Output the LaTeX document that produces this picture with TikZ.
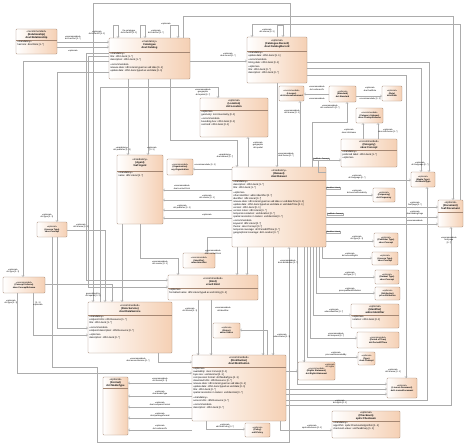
\documentclass[tikz,border=0pt]{standalone}
\usepackage{fontspec}
\setmainfont{Liberation Sans}
\usetikzlibrary{arrows.meta,calc}
\definecolor{peach}{RGB}{245,208,180}
\definecolor{bordc}{RGB}{165,135,115}
\definecolor{linec}{RGB}{172,172,172}
\tikzset{
 clsbox/.style={draw=bordc, line width=0.4pt, rounded corners=0.8pt, left color=white, right color=peach, inner sep=0pt, outer sep=0pt},
 hdr/.style={font=\fontsize{2.6}{3.0}\selectfont, align=center, inner sep=0pt},
 shdr/.style={font=\fontsize{2.15}{2.55}\selectfont, align=center, inner sep=0pt},
 bodyt/.style={font=\fontsize{2.45}{3.0}\selectfont, align=left, inner sep=0pt},
 divc/.style={draw=bordc, line width=0.3pt},
 conn/.style={draw=linec, line width=0.38pt, -{Straight Barb[length=1.6pt,width=2.4pt]}},
 ln/.style={draw=linec, line width=0.38pt},
 qual/.style={draw=linec, line width=0.3pt, fill=white, inner sep=0.3pt, font=\fontsize{1.9}{2.2}\selectfont, anchor=north west},
 lbl/.style={font=\fontsize{2.1}{2.5}\selectfont, align=center, inner sep=0.2pt},
}
% #1 name, #2 x1, #3 y1, #4 x2, #5 y2, #6 header height, #7 header, #8 body
\newcommand{\umlcls}[8]{%
  \node[clsbox, anchor=north west, minimum width={(#4-#2)*1pt}, minimum height={(#5-#3)*1pt}] (#1) at (#2,#3) {};
  \node[hdr] (#1-h) at ([yshift={-(#6)*0.5pt}]#1.north) {#7};
  \draw[divc] ([yshift={-(#6)*1pt}]#1.north west) -- ([yshift={-(#6)*1pt}]#1.north east);
  \node[bodyt, anchor=north west] (#1-b) at ([xshift=1.2pt, yshift={-(#6+0.7)*1pt}]#1.north west) {#8};
}
\newcommand{\umlscls}[6]{%
  \node[clsbox, anchor=north west, minimum width={(#4-#2)*1pt}, minimum height={(#5-#3)*1pt}] (#1) at (#2,#3) {};
  \node[shdr] (#1-h) at (#1.center) {#6};
}
\newcommand{\lb}[4]{\node[lbl] (#1) at (#2,#3) {#4};}
\begin{document}
\begin{tikzpicture}[x=1pt,y=-1pt]
\fill[white] (0,0) rectangle (474,445);
\useasboundingbox (0,0) rectangle (474,445);

% ---------------- classes
\umlcls{A}{16}{29}{57}{54}{11}{«recommended»\\\textbf{(Relationship)}\\\textbf{dcat:Relationship}}{«mandatory»\\had role: dcat:Role [1..*]}
\umlcls{B}{109}{38}{190}{79}{14}{«mandatory»\\\textbf{Catalogue}\\\textbf{dcat:Catalog}}{«mandatory»\\title: rdfs:Literal [1..*]\\description: rdfs:Literal [1..*]\\[2pt]«recommended»\\release date: rdfs:Literal typed as xsd:date [0..1]\\update date: rdfs:Literal typed as xsd:date [0..1]}
\umlcls{C}{247}{37}{307}{83}{14}{«optional»\\\textbf{(Catalogue Record)}\\\textbf{dcat:CatalogRecord}}{«mandatory»\\update date: rdfs:Literal [1..1]\\[1pt]«recommended»\\listing date: rdfs:Literal [0..1]\\[1pt]«optional»\\title: rdfs:Literal [0..*]\\description: rdfs:Literal [0..*]}
\umlcls{D}{200}{98}{268}{137}{12}{«optional»\\\textbf{(Location)}\\\textbf{dct:Location}}{«optional»\\geometry: locn:Geometry [0..1]\\[1pt]«recommended»\\bounding box: rdfs:Literal [0..1]\\centroid: rdfs:Literal [0..1]}
\umlscls{E}{279}{86}{304}{101}{«recommended»\\\textbf{(Licence)}\\\textbf{dct:LicenseDocument}}
\umlscls{F}{329}{86}{356}{102}{«optional»\\\textbf{(Standard)}\\\textbf{dct:Standard}}
\umlscls{G}{382}{86}{402}{101}{«optional»\\\textbf{(Role)}\\\textbf{dcat:Role}}
\umlscls{H}{356}{108}{383}{123}{«recommended»\\\textbf{(Category Scheme)}\\\textbf{skos:ConceptScheme}}
\umlcls{I}{341}{139}{397}{167}{11}{«recommended»\\\textbf{(Category)}\\\textbf{skos:Concept}}{«mandatory»\\preferred label: rdfs:Literal [1..*]\\«optional»}
\umlcls{Agent}{117}{155}{163}{224}{16}{«mandatory»\\\textbf{(Agent)}\\\textbf{foaf:Agent}}{«mandatory»\\name: rdfs:Literal [1..*]}
\umlscls{L}{167}{159}{193}{175}{«recommended»\\\textbf{(Organisation)}\\\textbf{org:Organization}}
\umlcls{Dataset}{232}{167}{326}{247}{13}{«mandatory»\\\textbf{(Dataset)}\\\textbf{dcat:Dataset}}{«mandatory»\\description: rdfs:Literal [1..*]\\title: rdfs:Literal [1..*]\\[1.5pt]«optional»\\other identifier: adms:Identifier [0..*]\\identifier: rdfs:Literal [0..*]\\release date: rdfs:Literal typed as xsd:date or xsd:dateTime [0..1]\\update date: rdfs:Literal typed as xsd:date or xsd:dateTime [0..1]\\version: rdfs:Literal [0..1]\\version notes: rdfs:Literal [0..*]\\temporal resolution: xsd:duration [0..*]\\spatial resolution in meters: xsd:decimal [0..*]\\[1.5pt]«recommended»\\keyword: rdfs:Literal [0..*]\\theme: skos:Concept [0..*]\\temporal coverage: dct:PeriodOfTime [0..*]\\geographical coverage: dct:Location [0..*]}
\umlscls{Ling}{411}{172}{435}{187}{«optional»\\\textbf{(Media Type)}\\\textbf{dct:MediaType}}
\umlcls{Doc}{438}{200}{463}{227}{12}{«optional»\\\textbf{(Document)}\\\textbf{foaf:Document}}{}
\umlscls{Id1}{373}{188}{395}{202}{«optional»\\\textbf{(Frequency)}\\\textbf{dct:Frequency}}
\umlscls{R1}{374}{233}{398}{247}{«optional»\\\textbf{(Publisher Type)}\\\textbf{skos:Concept}}
\umlscls{R2}{372}{252}{398}{265}{«optional»\\\textbf{(Licence Type)}\\\textbf{skos:Concept}}
\umlscls{R3}{375}{270}{399}{284}{«optional»\\\textbf{(Dataset Type)}\\\textbf{skos:Concept}}
\umlscls{R4}{375}{287}{400}{300}{«optional»\\\textbf{(Attribution)}\\\textbf{prov:Attribution}}
\umlcls{R5}{351}{304}{399}{328}{11}{«optional»\\\textbf{(Identifier)}\\\textbf{adms:Identifier}}{«optional»\\notation: rdfs:Literal [0..1]}
\umlscls{R6}{357}{332}{399}{348}{«recommended»\\\textbf{(Period of Time)}\\\textbf{dct:PeriodOfTime}}
\umlscls{R7}{358}{352}{375}{365}{«optional»\\\textbf{(Type)}\\\textbf{skos:Concept}}
\umlscls{Std2}{387}{378}{417}{398}{«optional»\\\textbf{(Licence Document)}\\\textbf{dct:LicenseDocument}}
\umlcls{Chk}{332}{411}{400}{438}{10}{«optional»\\\textbf{(Checksum)}\\\textbf{spdx:Checksum}}{«mandatory»\\algorithm: spdx:ChecksumAlgorithm [1..1]\\checksum value: xsd:hexBinary [1..1]}
\umlscls{Rights}{298}{362}{335}{380}{«recommended»\\\textbf{(Rights Statement)}\\\textbf{dct:RightsStatement}}
\umlscls{Pol}{245}{423}{270}{437}{«optional»\\\textbf{(Policy)}\\\textbf{odrl:Policy}}
\umlscls{LS}{213}{323}{240}{338}{«optional»\\\textbf{(Status)}\\\textbf{adms:Status}}
\umlcls{MT}{103}{377}{128}{435}{11}{«optional»\\\textbf{(Format)}\\\textbf{dct:MediaType}}{}
\umlscls{M}{183}{253}{215}{268}{«recommended»\\\textbf{(Identifier)}\\\textbf{adms:Identifier}}
\umlcls{N}{168}{275}{258}{300}{13}{«recommended»\\\textbf{(Kind)}\\\textbf{vcard:Kind}}{«optional»\\formatted name: rdfs:Literal typed as xsd:string [0..1]}
\umlscls{K1}{3}{277}{45}{293}{«recommended»\\\textbf{(Concept Scheme)}\\\textbf{skos:ConceptScheme}}
\umlscls{K2}{37}{222}{67}{237}{«optional»\\\textbf{(Licence Type)}\\\textbf{skos:Concept}}
\umlcls{O}{88}{302}{172}{353}{13}{«recommended»\\\textbf{(Data Service)}\\\textbf{dcat:DataService}}{«mandatory»\\endpoint URL: rdfs:Resource [1..*]\\title: rdfs:Literal [1..*]\\[1.5pt]«recommended»\\endpoint description: rdfs:Resource [0..*]\\[1.5pt]«optional»\\description: rdfs:Literal [0..*]}
\umlcls{Dist}{192}{355}{286}{421}{12}{«recommended»\\\textbf{(Distribution)}\\\textbf{dcat:Distribution}}{«optional»\\availability: skos:Concept [0..1]\\byte size: xsd:decimal [0..1]\\compression format: dct:MediaType [0..1]\\download URL: rdfs:Resource [0..*]\\release date: rdfs:Literal typed as xsd:date [0..1]\\update date: rdfs:Literal typed as xsd:date [0..1]\\title: rdfs:Literal [0..*]\\spatial resolution in meters: xsd:decimal [0..*]\\[1.5pt]«mandatory»\\access URL: rdfs:Resource [1..*]\\[1.5pt]«recommended»\\description: rdfs:Literal [0..*]}

% ---------------- connectors: top loops
\draw[conn] (290,0 |- C.north) -- (290,3) -- (93,3) -- (93,0 |- O.north);
\draw[conn] (183,0 |- B.north) -- (183,16) -- (453,16) -- (453,0 |- Doc.north);
\draw[conn] (460,0 |- Doc.north) -- (460,24) -- (252,24) -- (252,0 |- C.north);
\draw[conn] (C.east |- 0,62) -- (429,62) -- (429,0 |- Ling.north);
\draw[conn] (C.east |- 0,68) -- (421,68) -- (421,0 |- Ling.north);
\draw[conn] (C.east |- 0,75) -- (406,75) -- (406,0 |- Std2.north);
\draw[conn] (B.east |- 0,61) -- (C.west |- 0,61);
% self loops
\draw[conn] (113,0 |- B.north) -- (113,25) -- (118,25) -- (118,0 |- B.north);
\draw[conn] (140,0 |- B.north) -- (140,25) -- (145,25) -- (145,0 |- B.north);
\draw[conn] (170,0 |- B.north) -- (170,25) -- (178,25) -- (178,0 |- B.north);
\draw[conn] (277,0 |- C.north) -- (277,25) -- (283,25) -- (283,0 |- C.north);
% catalogue
\draw[conn] (128,0 |- B.south) -- (128,0 |- Agent.north);
\draw[conn] (148,0 |- B.south) -- (148,0 |- Agent.north);
\draw[conn] (170,0 |- B.south) -- (170,140) -- (237,140) -- (237,0 |- Dataset.north);
\draw[conn] (100,0 |- O.north) -- (100,87) -- (218,87) -- (218,0 |- D.north);
\draw[conn] (277,0 |- C.south) -- (277,0 |- Dataset.north);
\draw[conn] (248,0 |- Dataset.north) -- (248,0 |- D.south);
\draw[conn] (300,0 |- Dataset.north) -- (300,0 |- E.south);
\draw[conn] (F.west |- 0,94) -- (E.east |- 0,94);
\draw[conn] (312,0 |- Dataset.north) -- (312,122) -- (347,122) -- (347,0 |- F.south);
\draw[conn] (F.east |- 0,96) -- (G.west |- 0,96);
\draw[conn] (363,0 |- I.north) -- (363,0 |- H.south);
\draw[conn] (378,0 |- I.north) -- (378,0 |- H.south);
% dataset right side
\draw[conn] (Dataset.east |- 0,172) -- (318,172) -- (318,160) -- (I.west |- 0,160);
\draw[conn] (Dataset.east |- 0,180) -- (Ling.west |- 0,180);
\draw[conn] (Dataset.east |- 0,195) -- (Id1.west |- 0,195);
\draw[conn] (Dataset.east |- 0,207) -- (Doc.west |- 0,207);
\draw[conn] (Dataset.east |- 0,217) -- (Doc.west |- 0,217);
\draw[conn] (Dataset.east |- 0,224) -- (Doc.west |- 0,224);
\draw[conn] (Dataset.east |- 0,241) -- (R1.west |- 0,241);
\draw[conn] (322,0 |- Dataset.south) -- (322,258) -- (R2.west |- 0,258);
\draw[conn] (319,0 |- Dataset.south) -- (319,277) -- (R3.west |- 0,277);
\draw[conn] (316,0 |- Dataset.south) -- (316,293) -- (R4.west |- 0,293);
\draw[conn] (313,0 |- Dataset.south) -- (313,315) -- (R5.west |- 0,315);
\draw[conn] (310,0 |- Dataset.south) -- (310,338) -- (R6.west |- 0,338);
\draw[conn] (307,0 |- Dataset.south) -- (307,357) -- (R7.west |- 0,357);
\draw[conn] (304,0 |- Dataset.south) -- (304,0 |- Rights.north);
\draw[conn] (297,0 |- Dataset.south) -- (297,384) -- (Std2.west |- 0,384);
% dataset bottom
\draw[conn] (263,0 |- Dataset.south) -- (263,0 |- Dist.north);
\draw[conn] (273,0 |- Dataset.south) -- (273,0 |- Dist.north);
\draw[conn] (237,0 |- Dataset.south) -- (237,0 |- N.north);
\draw[conn] (247,0 |- Dataset.south) -- (247,0 |- N.north);
\draw[conn] (Dataset.west |- 0,237) -- (207,237) -- (207,0 |- M.north);
\draw[conn] (Dataset.west |- 0,169) -- (L.east |- 0,169);
\foreach \yy in {190,200,210,218} {\draw[conn] (Dataset.west |- 0,\yy) -- (Agent.east |- 0,\yy);}
% left side
\draw[conn] (A.east |- 0,42) -- (B.west |- 0,42);
\draw[conn] (A.east |- 0,47) -- (B.west |- 0,47);
\draw[conn] (B.west |- 0,61) -- (23,61) -- (23,0 |- K1.north);
\draw[conn] (B.west |- 0,72) -- (57,72) -- (57,0 |- K2.north);
\draw[conn] (B.west |- 0,53) -- (86,53) -- (86,280) -- (N.west |- 0,280);
\draw[conn] (B.west |- 0,56) -- (88,56) -- (88,287) -- (N.west |- 0,287);
\draw[conn] (K2.east |- 0,230) -- (105,230) -- (105,0 |- O.north);
\draw[conn] (K1.east |- 0,284) -- (112,284) -- (112,0 |- O.north);
\draw[conn] (140,0 |- Agent.south) -- (140,258) -- (178,258) -- (178,0 |- N.north);
\draw[conn] (122,0 |- Agent.south) -- (122,0 |- O.north);
\draw[conn] (52,0 |- K2.south) -- (52,367) -- (97,367) -- (97,442) -- (289,442) -- (289,0 |- Dataset.south);
\draw[conn] (17,0 |- K1.south) -- (17,373) -- (Dist.west |- 0,373);
\draw[conn] (33,0 |- K1.south) -- (33,335) -- (O.west |- 0,335);
\draw[conn] (57,0 |- K2.south) -- (57,328) -- (O.west |- 0,328);
% N / distribution
\draw[conn] (198,0 |- N.south) -- (198,0 |- Dist.north);
\draw[conn] (211,0 |- N.south) -- (211,0 |- Dist.north);
\draw[conn] (267,0 |- Dist.north) -- (267,330) -- (LS.east |- 0,330);
\draw[conn] (158,0 |- O.south) -- (158,362) -- (Dist.west |- 0,362);
\foreach \yy in {383,396,407,418,430} {\draw[conn] (Dist.west |- 0,\yy) -- (MT.east |- 0,\yy);}
\draw[conn] (Dist.east |- 0,371) -- (Rights.west |- 0,371);
\draw[conn] (Dist.east |- 0,389) -- (Std2.west |- 0,389);
\draw[conn] (Dist.east |- 0,394) -- (Std2.west |- 0,394);
\draw[conn] (Dist.east |- 0,400) -- (427,400) -- (427,0 |- Ling.south);
\draw[conn] (Dist.east |- 0,405) -- (451,405) -- (451,0 |- Doc.south);
\draw[conn] (280,0 |- Dist.south) -- (280,430) -- (Chk.west |- 0,430);
\draw[conn] (206,0 |- Dist.south) -- (206,429) -- (Pol.west |- 0,429);

% qualifier boxes
\node[qual] (q1) at (326,187) {identifier: Literal};
\node[qual] (q2) at (327,213) {hadRole: Concept};
\node[qual] (q3) at (326,231) {identifier: Literal};
\node[qual] (q4) at (313,158) {hadRole: Concept};

% ---------------- labels
\lb{l1}{73}{38}{«recommended»\\dct:hasPart [0..*]}
\lb{l2}{73}{51}{«optional»}
\lb{l3}{97}{33}{«optional»\\dct:isPartOf [0..1]}
\lb{l4}{129}{32}{the catalogue\\dct:isPartOf [0..1]}
\lb{l5}{156}{32}{«optional»\\dct:hasPart [0..*]}
\lb{l5b}{166}{24}{«optional»}
\lb{l6}{228}{55}{«optional»\\dcat:record [0..*]}
\lb{l7}{267}{31}{«optional»\\dct:source [0..1]}
\lb{l8}{203}{92}{«recommended»\\geographic\\dct:spatial [0..*]}
\lb{l9}{258}{145}{«optional»\\geographic\\dct:spatial}
\lb{l10}{286}{155}{«recommended»\\dcat:theme [0..*]}
\lb{l11}{292}{112}{«recommended»\\dct:license [0..1]}
\lb{l12}{317}{88}{«recommended»\\dct:conformsTo}
\lb{l13}{317}{99}{«recommended»}
\lb{l14}{330}{107}{«recommended»\\dct:conformsTo [0..*]}
\lb{l15}{370}{89}{«optional»\\dcat:hadRole}
\lb{l16}{370}{99}{«recommended» [0..1]}
\lb{l17}{388}{131}{«optional»\\skos:inScheme [1..*]}
\lb{l18}{349}{131}{«optional»\\skos:inScheme}
\lb{l19}{122}{149}{«mandatory»\\dct:publisher [1..1]}
\lb{l19b}{152}{149}{«optional»\\{}[0..1]}
\lb{l20}{182}{187}{«recommended»\\dcat:contactPoint}
\lb{l21}{207}{197}{«optional»\\dct:creator [0..1]}
\lb{l22}{182}{207}{«optional»\\dct:publisher [0..1]}
\lb{l23}{207}{215}{«optional»}
\lb{l24}{205}{165}{«recommended» [0..1]}
\lb{l24b}{225}{156}{«mandatory»\\dcat:dataset [0..*]}
\lb{l25}{357}{177}{«optional»\\dct:language [0..*]}
\lb{l26}{357}{192}{«optional»\\dct:accrualPeriodicity}
\lb{l27}{415}{204}{«optional»\\foaf:page [0..*]}
\lb{l28}{415}{213}{«optional»\\dcat:landingPage}
\lb{l29}{415}{221}{«recommended»}
\lb{l30}{357}{238}{«optional»\\dct:type [0..1]}
\lb{l31}{350}{255}{«optional»\\dct:accessRights}
\lb{l32}{350}{274}{«optional»\\dct:type [0..*]}
\lb{l33}{350}{290}{«optional»\\prov:qualifiedAttribution}
\lb{l34}{334}{311}{«optional»\\adms:identifier [0..*]}
\lb{l35}{336}{335}{«recommended»\\dct:temporal [0..*]}
\lb{l36}{336}{354}{«optional»\\prov:wasGeneratedBy}
\lb{l37}{288}{262}{«recommended»\\dcat:distribution [0..*]}
\lb{l38}{213}{252}{«recommended»\\dcat:contactPoint}
\lb{l39}{160}{263}{«recommended»\\dct:creator [0..1]}
\lb{l40}{13}{271}{«optional»\\dct:type [0..1]}
\lb{l41}{47}{216}{«optional»\\dct:type [0..1]}
\lb{l42}{81}{226}{«optional»\\dct:license [0..1]}
\lb{l43}{11}{302}{«optional»\\dct:type [0..1]}
\lb{l44}{38}{304}{{}[0..1]\\«optional»}
\lb{l45}{138}{360}{«recommended»\\dcat:accessService [0..*]}
\lb{l46}{160}{380}{«recommended»\\dct:format [0..1]}
\lb{l47}{160}{393}{«optional»\\dcat:mediaType}
\lb{l48}{160}{404}{«optional»\\dcat:compressFormat}
\lb{l49}{160}{415}{«optional»\\dcat:packageFormat}
\lb{l50}{160}{427}{«optional»\\dct:conformsTo}
\lb{l51}{282}{336}{«optional»\\adms:status [0..1]}
\lb{l52}{340}{402}{«optional»\\dct:rights [0..1]}
\lb{l53}{312}{427}{«optional»\\spdx:checksum [0..1]}
\lb{l54}{225}{426}{«optional»\\odrl:hasPolicy [0..*]}
\lb{l55}{449}{240}{«recommended»\\foaf:page\\{}[0..*]}
\lb{l56}{420}{164}{«optional»\\dct:language [0..*]}
\lb{l57}{393}{371}{«optional»\\dct:license [0..1]}
\lb{l58}{190}{310}{«optional»\\dct:format [0..1]}
\lb{l59}{223}{309}{«recommended»\\dct:identifier}
\lb{l60}{330}{366}{«optional»\\dct:rights}
\lb{l61}{93}{295}{generalized by\\dct:spatial [0..1]}
\end{tikzpicture}
\end{document}
